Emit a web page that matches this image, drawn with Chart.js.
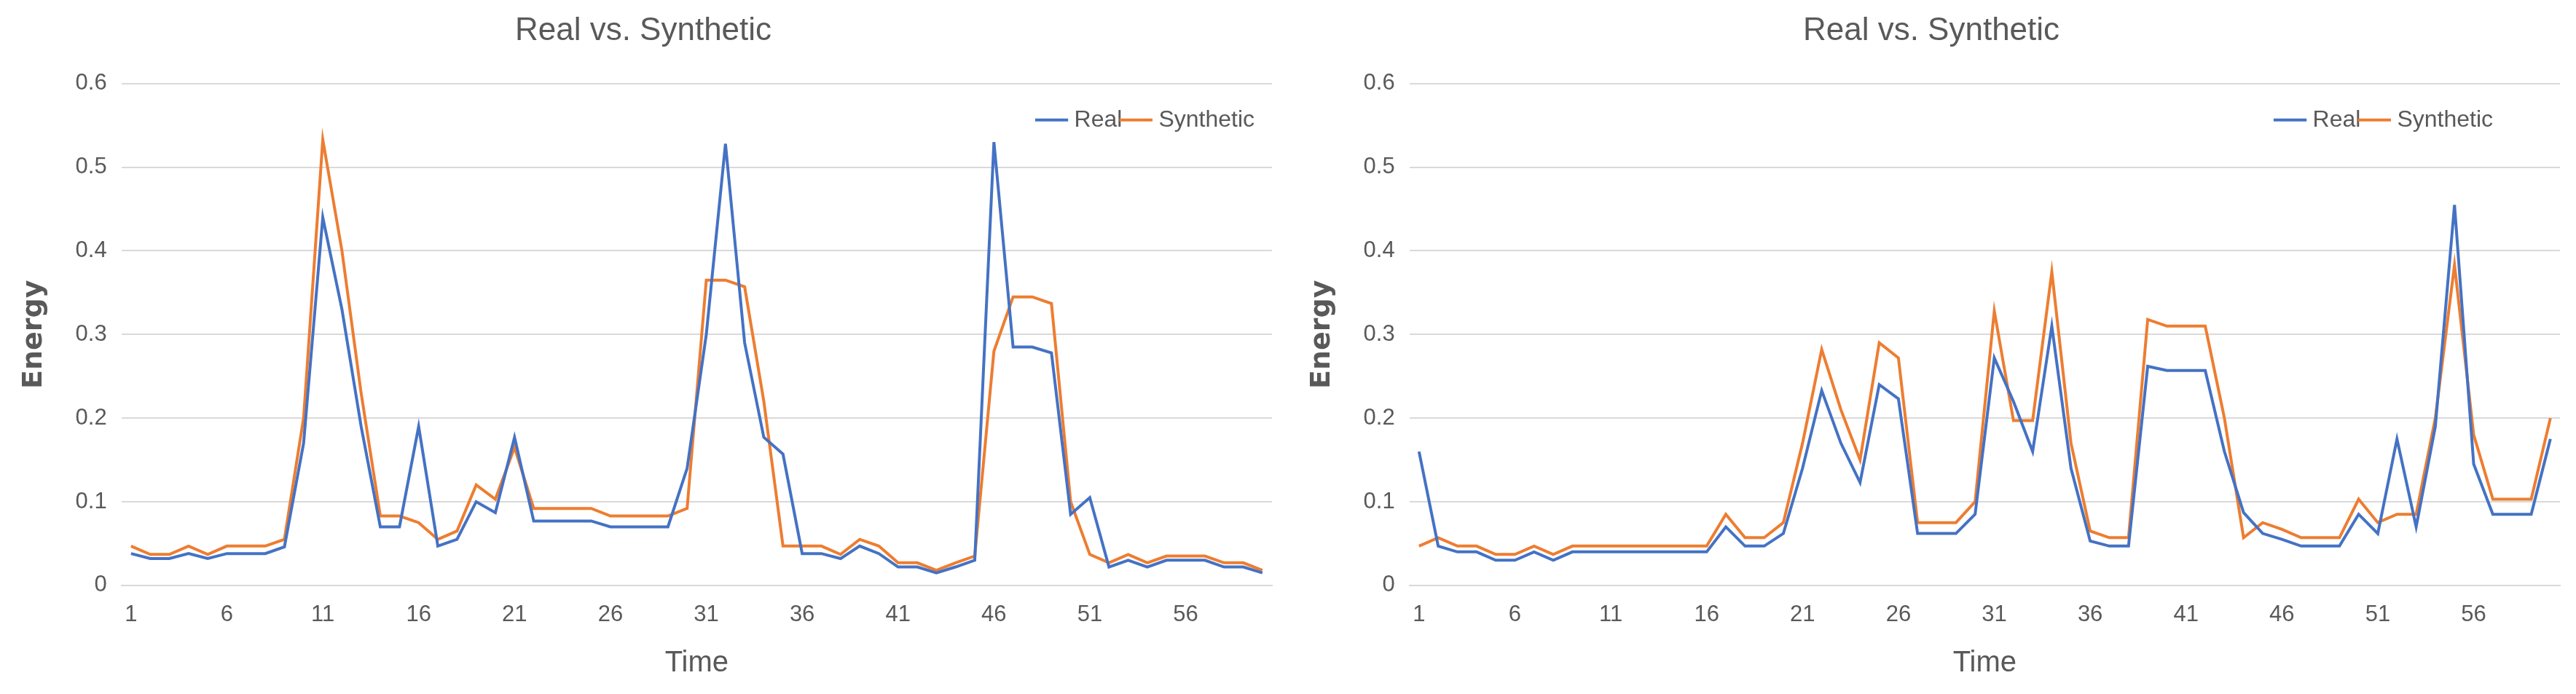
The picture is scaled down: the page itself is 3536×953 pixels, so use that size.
<!DOCTYPE html>
<html>
<head>
<meta charset="utf-8">
<script src="https://cdn.jsdelivr.net/npm/chart.js@4.4.0/dist/chart.umd.min.js"></script>
<style>
  body { margin: 0; background: #fff; }
  .wrap { display: flex; }
  .box { width: 1768px; height: 953px; position: relative; }
</style>
</head>
<body>
<div class="wrap">
  <div class="box"><canvas id="left"></canvas></div>
  <div class="box"><canvas id="right"></canvas></div>
</div>
<script>
const timeLabels = Array.from({ length: 60 }, (_, i) => String(i + 1));

const leftReal = [0.038,0.032,0.032,0.038,0.032,0.038,0.038,0.038,0.046,0.17,
  0.44,0.33,0.19,0.07,0.07,0.19,0.047,0.055,0.1,0.087,
  0.177,0.077,0.077,0.077,0.077,0.07,0.07,0.07,0.07,0.14,
  0.3,0.528,0.29,0.177,0.157,0.038,0.038,0.032,0.047,0.038,
  0.022,0.022,0.015,0.022,0.03,0.53,0.285,0.285,0.278,0.085,
  0.105,0.022,0.03,0.022,0.03,0.03,0.03,0.022,0.022,0.015];
const leftSynthetic = [0.047,0.037,0.037,0.047,0.037,0.047,0.047,0.047,0.055,0.2,
  0.533,0.4,0.23,0.083,0.083,0.075,0.055,0.065,0.12,0.103,
  0.165,0.092,0.092,0.092,0.092,0.083,0.083,0.083,0.083,0.092,
  0.365,0.365,0.357,0.22,0.047,0.047,0.047,0.037,0.055,0.047,
  0.027,0.027,0.018,0.027,0.035,0.28,0.345,0.345,0.337,0.1,
  0.037,0.027,0.037,0.027,0.035,0.035,0.035,0.027,0.027,0.018];

const rightReal = [0.16,0.047,0.04,0.04,0.03,0.03,0.04,0.03,0.04,0.04,
  0.04,0.04,0.04,0.04,0.04,0.04,0.07,0.047,0.047,0.062,
  0.14,0.233,0.17,0.123,0.24,0.223,0.062,0.062,0.062,0.085,
  0.272,0.22,0.16,0.31,0.14,0.053,0.047,0.047,0.262,0.257,
  0.257,0.257,0.16,0.087,0.062,0.055,0.047,0.047,0.047,0.085,
  0.062,0.175,0.07,0.19,0.455,0.145,0.085,0.085,0.085,0.175];
const rightSynthetic = [0.047,0.057,0.047,0.047,0.037,0.037,0.047,0.037,0.047,0.047,
  0.047,0.047,0.047,0.047,0.047,0.047,0.085,0.057,0.057,0.075,
  0.17,0.282,0.21,0.15,0.29,0.272,0.075,0.075,0.075,0.1,
  0.328,0.197,0.197,0.375,0.17,0.065,0.057,0.057,0.318,0.31,
  0.31,0.31,0.2,0.057,0.075,0.067,0.057,0.057,0.057,0.103,
  0.075,0.085,0.085,0.2,0.383,0.18,0.103,0.103,0.103,0.2];

const FONT = "'Liberation Sans Narrow', 'Liberation Sans', sans-serif";
const GREY = "#595959";

// moves the legend inside the plot area, top right
const legendInside = {
  id: "legendInside",
  afterLayout(chart, args, opts) {
    const l = chart.legend, ca = chart.chartArea;
    const w = l.width, h = l.height;
    l.left = ca.right - w - opts.right;
    l.right = l.left + w;
    l.top = ca.top + opts.top;
    l.bottom = l.top + h;
  },
};

function makeChart(id, real, synth, legendRight) {
  new Chart(document.getElementById(id), {
    type: "line",
    data: {
      labels: timeLabels,
      datasets: [
        { label: "Real", data: real, borderColor: "#4472C4", backgroundColor: "#4472C4",
          borderWidth: 4, pointRadius: 0, tension: 0 },
        { label: "Synthetic", data: synth, borderColor: "#ED7D31", backgroundColor: "#ED7D31",
          borderWidth: 4, pointRadius: 0, tension: 0 },
      ],
    },
    plugins: [legendInside],
    options: {
      responsive: true,
      maintainAspectRatio: false,
      animation: false,
      layout: { padding: { left: 20, right: 22, top: 10, bottom: 14 } },
      plugins: {
        title: { display: true, text: "Real vs. Synthetic", color: GREY,
          font: { family: FONT, size: 44, weight: "normal" }, padding: { top: 6, bottom: 0 } },
        legend: {
          position: "top",
          align: "end",
          labels: { usePointStyle: true, pointStyle: "line", boxWidth: 30, color: GREY,
            font: { family: FONT, size: 32 }, padding: 4 },
        },
        legendInside: { right: legendRight, top: 30 },
        tooltip: { enabled: false },
      },
      scales: {
        x: {
          offset: true,
          grid: { display: false },
          border: { display: true, color: "#d9d9d9", width: 2 },
          ticks: {
            autoSkip: false, maxRotation: 0, color: GREY, padding: 14,
            font: { family: FONT, size: 31 },
            callback: (v, i) => (i % 5 === 0 ? timeLabels[i] : ""),
          },
          title: { display: true, text: "Time", color: GREY,
            font: { family: FONT, size: 40 }, padding: { top: 10 } },
        },
        y: {
          min: 0, max: 0.6,
          grid: { color: "#d9d9d9", lineWidth: 2, drawTicks: false },
          border: { display: false },
          ticks: { stepSize: 0.1, color: GREY, padding: 20,
            font: { family: FONT, size: 31 },
            callback: (v) => (v === 0 ? "0" : Number(v.toFixed(1)).toString()) },
          title: { display: true, text: "Energy", color: GREY,
            font: { family: "'DejaVu Sans', sans-serif", size: 38, weight: "bold" }, padding: { bottom: 14 } },
        },
      },
    },
  });
}

makeChart("left", leftReal, leftSynthetic, 20);
makeChart("right", rightReal, rightSynthetic, 88);
</script>
</body>
</html>
